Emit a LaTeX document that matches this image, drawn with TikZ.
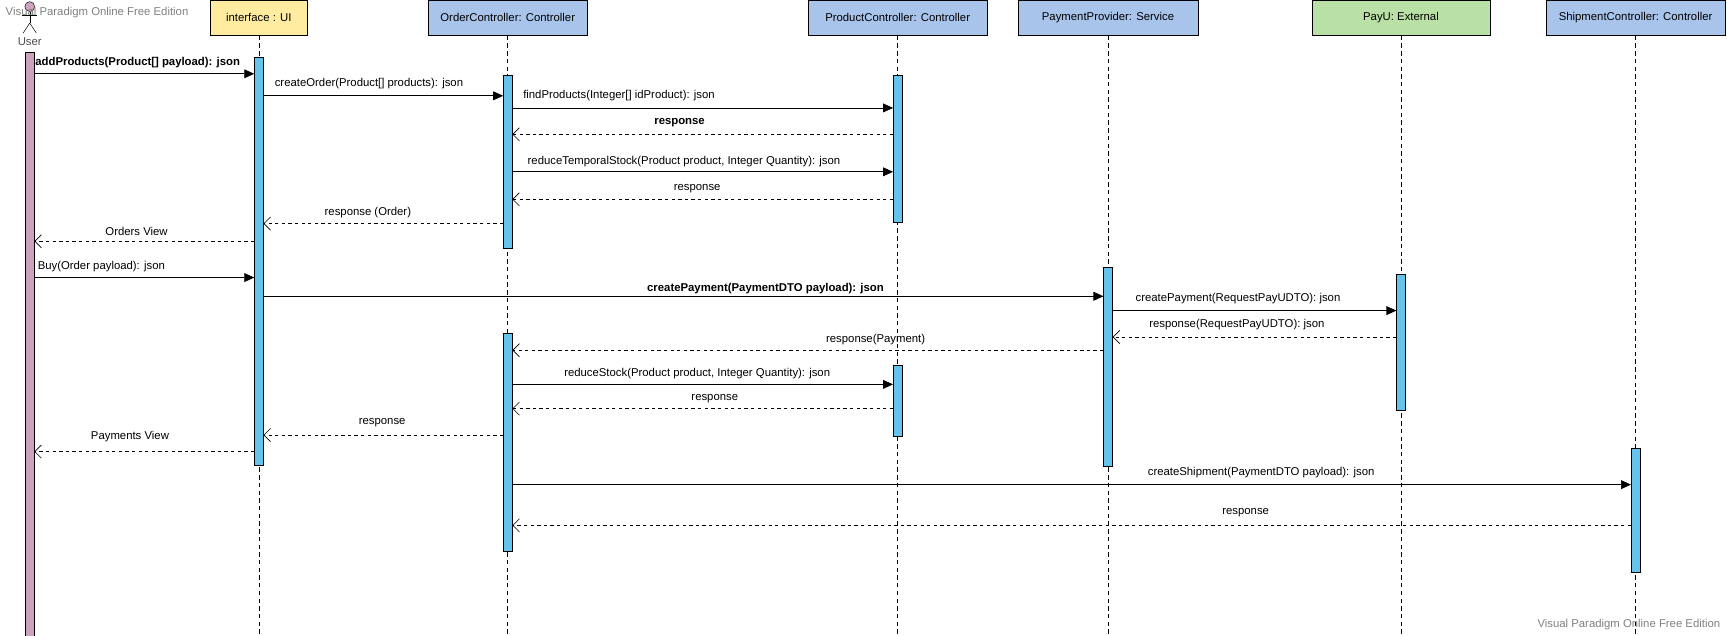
\documentclass[tikz,border=0pt]{standalone}
\usepackage{fontspec}
\setmainfont{Liberation Sans}
\usetikzlibrary{arrows.meta}
\definecolor{barblue}{RGB}{100,196,235}
\definecolor{hdrblue}{RGB}{169,196,235}
\definecolor{hdryel}{RGB}{255,236,160}
\definecolor{hdrgrn}{RGB}{185,224,165}
\definecolor{barpink}{RGB}{205,162,190}
\tikzset{
 hdr/.style={draw, minimum height=32pt, anchor=north, font=\fontsize{10.3}{12}\selectfont, inner sep=0pt},
 life/.style={dashed, line width=0.6pt, dash pattern=on 4pt off 3pt},
 bar/.style={draw, fill=barblue, minimum width=8pt, anchor=north, inner sep=0pt},
 msg/.style={-{Triangle[length=9pt,width=8pt]}, line width=0.6pt},
 ret/.style={dashed, dash pattern=on 3pt off 3pt, -{Straight Barb[length=6pt,width=12pt]}, line width=0.6pt},
 lbl/.style={font=\fontsize{10.3}{12}\selectfont, inner sep=0pt},
 blbl/.style={font=\fontsize{10.3}{12}\selectfont\bfseries, inner sep=0pt},
 wm/.style={font=\fontsize{10.3}{12}\selectfont, text=gray, inner sep=0pt}
}
\begin{document}
\begin{tikzpicture}[x=1pt,y=-1pt]
\useasboundingbox (0,0) rectangle (1568,577);
% headers
\node[hdr, fill=hdryel, minimum width=88pt] (hui) at (235,0) {interface : UI};
\node[hdr, fill=hdrblue, minimum width=145pt] (hoc) at (461,0) {OrderController: Controller};
\node[hdr, fill=hdrblue, minimum width=162pt] (hpc) at (815,0) {ProductController: Controller};
\node[hdr, fill=hdrblue, minimum width=163pt] (hpp) at (1006,0) {PaymentProvider: Service};
\node[hdr, fill=hdrgrn, minimum width=162pt] (hpu) at (1272,0) {PayU: External};
\node[hdr, fill=hdrblue, minimum width=163pt] (hsc) at (1485,0) {ShipmentController: Controller};
% actor
\node[draw, fill=barpink, circle, minimum size=9pt, inner sep=0pt] (head) at (27,6) {};
\coordinate (hip) at (27,21);
\draw (head.south) -- (hip);
\draw (20,14) -- (34,14);
\draw (hip) -- (21,30) (hip) -- (33,30);
\node[wm, text=black!70] (ulbl) at (27,38) {User};
% lifelines
\draw[life] (hui.south) -- (235,577);
\draw[life] (hoc.south) -- (461,577);
\draw[life] (hpc.south) -- (815,577);
\draw[life] (hpp.south) -- (1006,577);
\draw[life] (hpu.south) -- (1272,577);
\draw[life] (hsc.south) -- (1485,577);
% bars
\node[bar, fill=barpink, minimum height=530pt] (bU) at (27,47) {};
\node[bar, minimum height=370pt] (bUI) at (235,52) {};
\node[bar, minimum height=157pt] (bO1) at (461,68) {};
\node[bar, minimum height=198pt] (bO2) at (461,302) {};
\node[bar, minimum height=134pt] (bP1) at (815,68) {};
\node[bar, minimum height=65pt] (bP2) at (815,331) {};
\node[bar, minimum height=181pt] (bPP) at (1006,242) {};
\node[bar, minimum height=123pt] (bPU) at (1272,249) {};
\node[bar, minimum height=112pt] (bS) at (1485,407) {};
% messages
\draw[msg] (bU.east |- 0,67) -- (bUI.west |- 0,67);
\node[blbl] (l1) at (125,57) {addProducts(Product[] payload): json};
\draw[msg] (bUI.east |- 0,87) -- (bO1.west |- 0,87);
\node[lbl] (l2) at (335,76) {createOrder(Product[] products): json};
\draw[msg] (bO1.east |- 0,98) -- (bP1.west |- 0,98);
\node[lbl] (l3) at (562,87) {findProducts(Integer[] idProduct): json};
\draw[ret] (bP1.west |- 0,122) -- (bO1.east |- 0,122);
\node[blbl] (l4) at (617,111) {response};
\draw[msg] (bO1.east |- 0,156) -- (bP1.west |- 0,156);
\node[lbl] (l5) at (621,147) {reduceTemporalStock(Product product, Integer Quantity): json};
\draw[ret] (bP1.west |- 0,181) -- (bO1.east |- 0,181);
\node[lbl] (l6) at (633,171) {response};
\draw[ret] (bO1.west |- 0,203) -- (bUI.east |- 0,203);
\node[lbl] (l7) at (334,193) {response (Order)};
\draw[ret] (bUI.west |- 0,219) -- (bU.east |- 0,219);
\node[lbl] (l8) at (124,210) {Orders View};
\draw[msg] (bU.east |- 0,252) -- (bUI.west |- 0,252);
\node[lbl] (l9) at (92,242) {Buy(Order payload): json};
\draw[msg] (bUI.east |- 0,269) -- (bPP.west |- 0,269);
\node[blbl] (l10) at (695,262) {createPayment(PaymentDTO payload): json};
\draw[msg] (bPP.east |- 0,282) -- (bPU.west |- 0,282);
\node[lbl] (l11) at (1124,271) {createPayment(RequestPayUDTO): json};
\draw[ret] (bPU.west |- 0,306) -- (bPP.east |- 0,306);
\node[lbl] (l12) at (1123,295) {response(RequestPayUDTO): json};
\draw[ret] (bPP.west |- 0,318) -- (bO2.east |- 0,318);
\node[lbl] (l13) at (795,308) {response(Payment)};
\draw[msg] (bO2.east |- 0,349) -- (bP2.west |- 0,349);
\node[lbl] (l14) at (633,339) {reduceStock(Product product, Integer Quantity): json};
\draw[ret] (bP2.west |- 0,371) -- (bO2.east |- 0,371);
\node[lbl] (l15) at (649,362) {response};
\draw[ret] (bO2.west |- 0,395) -- (bUI.east |- 0,395);
\node[lbl] (l16) at (347,384) {response};
\draw[ret] (bUI.west |- 0,410) -- (bU.east |- 0,410);
\node[lbl] (l17) at (118,396) {Payments View};
\draw[msg] (bO2.east |- 0,440) -- (bS.west |- 0,440);
\node[lbl] (l18) at (1145,429) {createShipment(PaymentDTO payload): json};
\draw[ret] (bS.west |- 0,477) -- (bO2.east |- 0,477);
\node[lbl] (l19) at (1131,465) {response};
% watermarks
\node[wm, anchor=west] (w1) at (5,11) {Visual Paradigm Online Free Edition};
\node[wm, anchor=east] (w2) at (1562,567) {Visual Paradigm Online Free Edition};
\end{tikzpicture}
\end{document}
